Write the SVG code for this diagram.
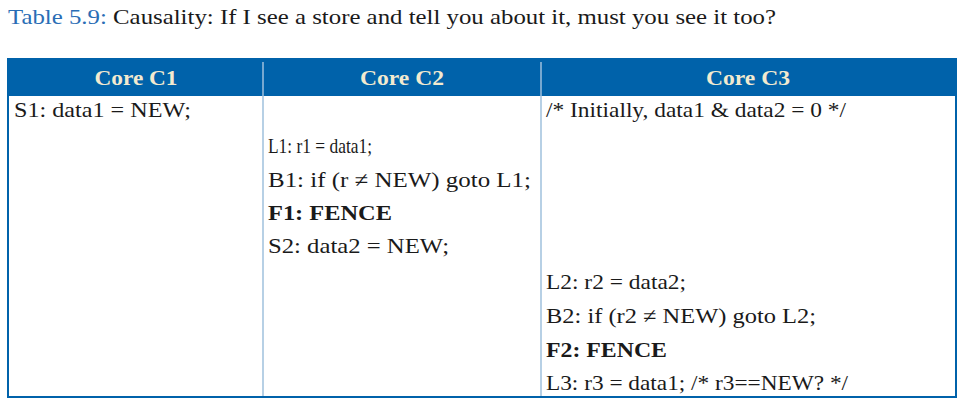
<svg xmlns="http://www.w3.org/2000/svg" width="963" height="402" viewBox="0 0 963 402">
<style>
text{font-family:"Liberation Serif",serif;font-size:21px;fill:#1a1a1a}
.h{font-weight:bold;fill:#f2ead0;text-anchor:middle}
.b{font-weight:bold}
</style>
<rect width="963" height="402" fill="#fff"/>
<text x="8" y="24" textLength="768" lengthAdjust="spacingAndGlyphs"><tspan fill="#2a6db5">Table 5.9:</tspan> Causality: If I see a store and tell you about it, must you see it too?</text>
<g id="table">
<rect x="8" y="59" width="948" height="37" fill="#0062aa"/>
<line x1="263" y1="62" x2="263" y2="396" stroke="#9fc0dc" stroke-width="1.5"/>
<line x1="541" y1="62" x2="541" y2="396" stroke="#9fc0dc" stroke-width="1.5"/>
<rect x="8" y="59" width="948" height="338" fill="none" stroke="#0062aa" stroke-width="2"/>
</g>
<g id="headers">
<text class="h" x="136" y="85" textLength="83" lengthAdjust="spacingAndGlyphs">Core C1</text>
<text class="h" x="402" y="85" textLength="84" lengthAdjust="spacingAndGlyphs">Core C2</text>
<text class="h" x="748" y="85" textLength="84" lengthAdjust="spacingAndGlyphs">Core C3</text>
</g>
<g id="c1"><text x="14" y="117" textLength="177" lengthAdjust="spacingAndGlyphs">S1: data1 = NEW;</text></g>
<g id="c2">
<text x="268" y="153" textLength="104" lengthAdjust="spacingAndGlyphs">L1: r1 = data1;</text>
<text x="268" y="187" textLength="263" lengthAdjust="spacingAndGlyphs">B1: if (r ≠ NEW) goto L1;</text>
<text x="268" y="220" class="b" textLength="124" lengthAdjust="spacingAndGlyphs">F1: FENCE</text>
<text x="268" y="253" textLength="181" lengthAdjust="spacingAndGlyphs">S2: data2 = NEW;</text>
</g>
<g id="c3">
<text x="546" y="117" textLength="300" lengthAdjust="spacingAndGlyphs">/* Initially, data1 &amp; data2 = 0 */</text>
<text x="546" y="289" textLength="140" lengthAdjust="spacingAndGlyphs">L2: r2 = data2;</text>
<text x="546" y="323" textLength="270" lengthAdjust="spacingAndGlyphs">B2: if (r2 ≠ NEW) goto L2;</text>
<text x="546" y="357" class="b" textLength="121" lengthAdjust="spacingAndGlyphs">F2: FENCE</text>
<text x="546" y="390" textLength="302" lengthAdjust="spacingAndGlyphs">L3: r3 = data1; /* r3==NEW? */</text>
</g>
</svg>
